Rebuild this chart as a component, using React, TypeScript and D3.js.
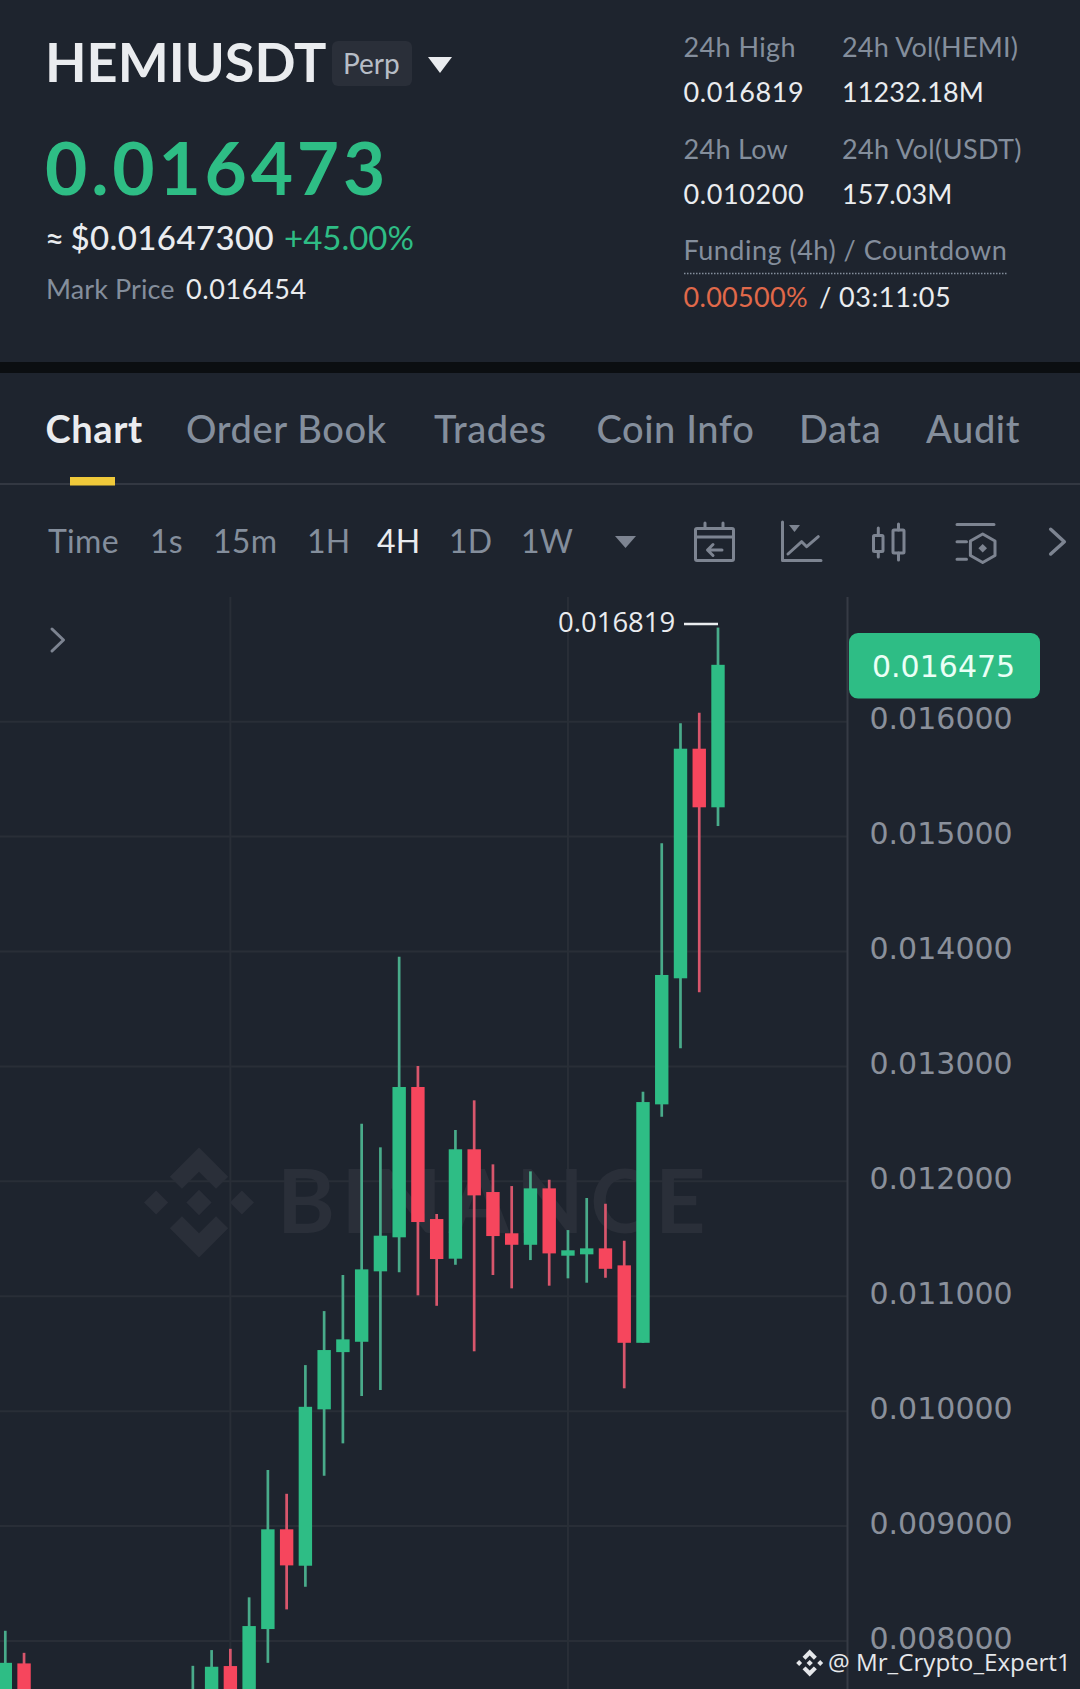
import { useEffect, useRef } from 'react';
import * as d3 from 'd3';

// candle slots: slots 2-9 sit below the visible part of the chart
const slots = [0, 1, 10, 11, 12, 13, 14, 15, 16, 17, 18, 19, 20, 21, 22, 23, 24, 25, 26, 27, 28, 29, 30, 31, 32, 33, 34, 35, 36, 37, 38];
const opens = [0.0075, 0.007805, 0.0074, 0.0075, 0.007782, 0.0075, 0.008104, 0.008972, 0.008655, 0.010016, 0.010514, 0.010604, 0.011217, 0.011513, 0.012821, 0.011672, 0.011327, 0.012279, 0.011907, 0.011548, 0.011448, 0.011939, 0.011353, 0.011365, 0.011417, 0.011269, 0.010595, 0.01267, 0.013767, 0.015765, 0.015255];
const highs = [0.008089, 0.007897, 0.007784, 0.007921, 0.007932, 0.00838, 0.009488, 0.009281, 0.010401, 0.010871, 0.011185, 0.012501, 0.012296, 0.013955, 0.013004, 0.011716, 0.012447, 0.012705, 0.012148, 0.011959, 0.012087, 0.012014, 0.011576, 0.011855, 0.011805, 0.011483, 0.01278, 0.014942, 0.015986, 0.016078, 0.016819];
const lows = [0.0074, 0.0074, 0.0073, 0.0074, 0.0074, 0.0074, 0.00781, 0.008275, 0.008472, 0.009438, 0.00972, 0.010132, 0.010184, 0.011208, 0.011008, 0.010917, 0.011274, 0.010521, 0.011185, 0.011069, 0.011315, 0.011092, 0.011156, 0.011118, 0.011161, 0.010199, 0.010595, 0.012562, 0.013158, 0.013645, 0.015092];
const closes = [0.00781, 0.0075, 0.00756, 0.007776, 0.0075, 0.00813, 0.008972, 0.008658, 0.010038, 0.010532, 0.010625, 0.011234, 0.011527, 0.012821, 0.011646, 0.011324, 0.012279, 0.011878, 0.011524, 0.011448, 0.011939, 0.011373, 0.0114, 0.011417, 0.011239, 0.010595, 0.01269, 0.013796, 0.015765, 0.015255, 0.016495];

const priceTicks = [0.016, 0.015, 0.014, 0.013, 0.012, 0.011, 0.01, 0.009, 0.008];
const timeGrid = [12, 30];
const lastPrice = 0.016475;
const highPrice = 0.016819;

const tabs = ['Chart', 'Order Book', 'Trades', 'Coin Info', 'Data', 'Audit'];
const tabX = [45.5, 186, 434, 596.5, 799, 926];
const intervals = ['Time', '1s', '15m', '1H', '4H', '1D', '1W'];
const intervalX = [48, 150, 213, 307, 377, 449, 521];

const BG = '#1e242e';
const GRID = '#292e37';
const UP = '#2ebd85';
const DOWN = '#f6465d';
const HEAD = 'Lato, "Noto Sans", sans-serif';
const AXIS = '"DejaVu Sans", "Noto Sans", sans-serif';
const CREDIT = '"Open Sans", "Noto Sans", sans-serif';
const MUTED = '#848e9c';
const LIGHT = '#eaecef';
const ICON = '#7d8491';

// Binance mark, drawn in a box from -1 to 1
const logoParts = [
  'M0,-.23L.23,0L0,.23L-.23,0Z',
  'M-.78,-.22L-.56,0L-.78,.22L-1,0Z',
  'M.78,-.22L1,0L.78,.22L.56,0Z',
  'M0,-1L.53,-.47L.31,-.25L0,-.56L-.31,-.25L-.53,-.47Z',
  'M0,1L.53,.47L.31,.25L0,.56L-.31,.25L-.53,.47Z',
];

const Logo = ({ x, y, r, fill }: { x: number; y: number; r: number; fill: string }) => (
  <g transform={`translate(${x},${y}) scale(${r})`} fill={fill}>
    {logoParts.map((d) => (
      <path key={d} d={d} />
    ))}
  </g>
);

const T = ({ x, y, size, fill = LIGHT, weight = 400, family = HEAD, spacing = 0, children }: any) => (
  <text x={x} y={y} fontSize={size} fill={fill} fontWeight={weight} fontFamily={family} letterSpacing={spacing}>
    {children}
  </text>
);

export default function App() {
  const chartRef = useRef<SVGGElement>(null);

  useEffect(() => {
    document.body.style.margin = '0';
    document.body.style.background = BG;
    if (!chartRef.current) return;

    const g = d3.select(chartRef.current);
    g.selectAll('*').remove();

    const yScale = d3.scaleLinear().domain([0.016, 0.008]).range([721.7, 1641]);
    const xScale = d3.scaleLinear().domain([0, 38]).range([5.3, 718]);
    const axisX = 847.5;

    // horizontal grid
    const grid = g
      .append('g')
      .attr('transform', `translate(${axisX},0)`)
      .call(d3.axisLeft(yScale).tickValues(priceTicks).tickSize(axisX).offset(0).tickFormat(() => ''));
    grid.select('.domain').remove();
    grid.selectAll('line').attr('stroke', GRID).attr('stroke-width', 2);

    // vertical grid
    g.selectAll('line.vgrid')
      .data(timeGrid)
      .join('line')
      .attr('class', 'vgrid')
      .attr('x1', (d) => xScale(d))
      .attr('x2', (d) => xScale(d))
      .attr('y1', 597)
      .attr('y2', 1689)
      .attr('stroke', GRID)
      .attr('stroke-width', 2);

    // price axis divider and labels
    g.append('line')
      .attr('x1', axisX)
      .attr('x2', axisX)
      .attr('y1', 597)
      .attr('y2', 1689)
      .attr('stroke', '#363b45')
      .attr('stroke-width', 2);

    const axis = g
      .append('g')
      .attr('transform', `translate(${axisX},0)`)
      .call(d3.axisRight(yScale).tickValues(priceTicks).tickSize(0).offset(0).tickPadding(22).tickFormat(d3.format('.6f') as any));
    axis.select('.domain').remove();
    axis
      .selectAll('text')
      .attr('font-family', AXIS)
      .attr('font-size', 30)
      .attr('fill', '#8a909b')
      .attr('dy', 7.5);

    // watermark goes under the candles
    const mark = g.append('g').attr('fill', '#2a2f39');
    mark
      .append('g')
      .attr('transform', 'translate(199,1202.5) scale(55)')
      .selectAll('path')
      .data(logoParts)
      .join('path')
      .attr('d', (d) => d);
    mark
      .append('text')
      .attr('x', 277)
      .attr('y', 1233)
      .attr('font-family', HEAD)
      .attr('font-weight', 700)
      .attr('font-size', 88)
      .attr('letter-spacing', 6.5)
      .text('BINANCE');

    // candles
    const candles = g
      .selectAll('g.candle')
      .data(slots)
      .join('g')
      .attr('class', 'candle');

    candles
      .append('line')
      .attr('x1', (d) => xScale(d))
      .attr('x2', (d) => xScale(d))
      .attr('y1', (_, i) => yScale(highs[i]))
      .attr('y2', (_, i) => yScale(lows[i]))
      .attr('stroke', (_, i) => (closes[i] >= opens[i] ? '#49ab8a' : '#d8566c'))
      .attr('stroke-width', 2.7);

    candles
      .append('rect')
      .attr('x', (d) => xScale(d) - 6.7)
      .attr('width', 13.4)
      .attr('y', (_, i) => yScale(Math.max(opens[i], closes[i])))
      .attr('height', (_, i) => Math.abs(yScale(opens[i]) - yScale(closes[i])))
      .attr('fill', (_, i) => (closes[i] >= opens[i] ? UP : DOWN));

    // high marker
    g.append('line')
      .attr('x1', 684)
      .attr('x2', xScale(38))
      .attr('y1', yScale(highPrice) - 3.5)
      .attr('y2', yScale(highPrice) - 3.5)
      .attr('stroke', LIGHT)
      .attr('stroke-width', 2.5);
    g.append('text')
      .attr('x', 558)
      .attr('y', yScale(highPrice) + 4.5)
      .attr('font-family', CREDIT)
      .attr('font-size', 27.5)
      .attr('fill', LIGHT)
      .text(d3.format('.6f')(highPrice));

    // last price pill
    g.append('rect')
      .attr('x', 849)
      .attr('y', yScale(lastPrice) - 34)
      .attr('width', 191)
      .attr('height', 65.5)
      .attr('rx', 9)
      .attr('fill', UP);
    g.append('text')
      .attr('x', 872)
      .attr('y', yScale(lastPrice) + 10)
      .attr('font-family', AXIS)
      .attr('font-size', 30)
      .attr('fill', '#eafff6')
      .text(d3.format('.6f')(lastPrice));
  }, []);

  return (
    <svg width={1080} height={1689} style={{ display: 'block', background: BG }}>
      {/* header */}
      <T x={45} y={82} size={54} weight={700} fill="#eaecef">HEMIUSDT</T>
      <rect x={332} y={41} width={80} height={45} rx={6} fill="#2a2f39" />
      <T x={343} y={74} size={28} fill="#b7bdc6">Perp</T>
      <path d="M428,57L452,57L440,73Z" fill={LIGHT} />
      <T x={45} y={195} size={73} weight={700} fill={UP} spacing={3.8}>0.016473</T>
      <T x={45} y={250} size={33} weight={500}>≈</T>
      <T x={70.5} y={250} size={33} weight={500} spacing={0.4}>$0.01647300</T>
      <T x={284} y={250} size={33} fill={UP}>+45.00%</T>
      <T x={46} y={299} size={27} fill={MUTED} spacing={0.1}>Mark Price</T>
      <T x={186} y={299} size={27} spacing={0.6}>0.016454</T>

      <T x={683.5} y={57} size={27} fill={MUTED} spacing={0.4}>24h High</T>
      <T x={842} y={57} size={27} fill={MUTED} spacing={0.2}>24h Vol(HEMI)</T>
      <T x={683.5} y={102} size={27} spacing={0.6}>0.016819</T>
      <T x={842} y={102} size={27} spacing={0.1}>11232.18M</T>
      <T x={683.5} y={159} size={27} fill={MUTED} spacing={0.3}>24h Low</T>
      <T x={842} y={159} size={27} fill={MUTED} spacing={0.4}>24h Vol(USDT)</T>
      <T x={683.5} y={204} size={27} spacing={0.6}>0.010200</T>
      <T x={842} y={204} size={27} spacing={0.1}>157.03M</T>
      <T x={683.5} y={260} size={27} fill={MUTED} spacing={0.5}>Funding (4h) / Countdown</T>
      <line x1={684} x2={1007} y1={273.5} y2={273.5} stroke={MUTED} strokeWidth={1.5} strokeDasharray="1.5 1.5" />
      <T x={683.5} y={307} size={27} fill="#e0694a" spacing={0.3}>0.00500%</T>
      <T x={819} y={307} size={27}>/</T>
      <T x={839} y={307} size={27} spacing={0.6}>03:11:05</T>

      <rect x={0} y={362} width={1080} height={11} fill="#0b0e11" />

      {/* tabs */}
      {tabs.map((t, i) => (
        <T key={t} x={tabX[i]} y={443} size={38} weight={i === 0 ? 700 : 500} fill={i === 0 ? LIGHT : MUTED} spacing={0.6}>{t}</T>
      ))}
      <line x1={0} x2={1080} y1={484} y2={484} stroke="#333842" strokeWidth={2} />
      <rect x={70} y={477} width={45} height={8.5} fill="#f0c93a" />

      {/* interval row */}
      {intervals.map((t, i) => (
        <T key={t} x={intervalX[i]} y={553} size={32} fill={t === '4H' ? LIGHT : MUTED} spacing={0.3}>{t}</T>
      ))}
      <path d="M615,536L636,536L625.5,548Z" fill={ICON} />

      <g fill="none" stroke={ICON} strokeWidth={3} strokeLinejoin="round" strokeLinecap="round">
        <rect x={695.5} y={528.5} width={38} height={32} rx={1.5} />
        <path d="M695.5,537H733.5M705,523V528M723,523V528" />
        <path d="M722,550H708M713,544.5L707.5,550L713,555.5" />
        <path d="M782.5,522V560.5H821" />
        <path d="M788,554L801.7,541.7L806.7,546.7L818.3,536.7" />
        <rect x={873.5} y={535.5} width={9.5} height={16} rx={1} />
        <rect x={893} y={530} width={11} height={23} rx={1} />
        <path d="M878.3,528V535M878.3,552V557M898.5,524V530M898.5,553V560" />
        <path d="M957,524.5H994M957,541.7H966.5M957,559.3H966.5" />
        <path d="M982.7,534L995,541V555.5L982.7,562.5L970.4,555.5V541Z" />
        <path d="M1050.7,529.3L1064.3,541.7L1050.7,554" strokeWidth={3.5} />
        <path d="M52,629L63.5,640L52,651" strokeWidth={3} />
      </g>
      <path d="M789,525H800L794.5,532Z" fill={ICON} />
      <path d="M982.7,544L987,548.3L982.7,552.6L978.4,548.3Z" fill={ICON} />

      <g ref={chartRef} />

      {/* credit in the corner */}
      <Logo x={809.7} y={1663} r={13.5} fill="#e5e7ea" />
      <T x={828} y={1671} size={24.2} family={CREDIT} fill="#e5e7ea">@ Mr_Crypto_Expert1</T>
    </svg>
  );
}
